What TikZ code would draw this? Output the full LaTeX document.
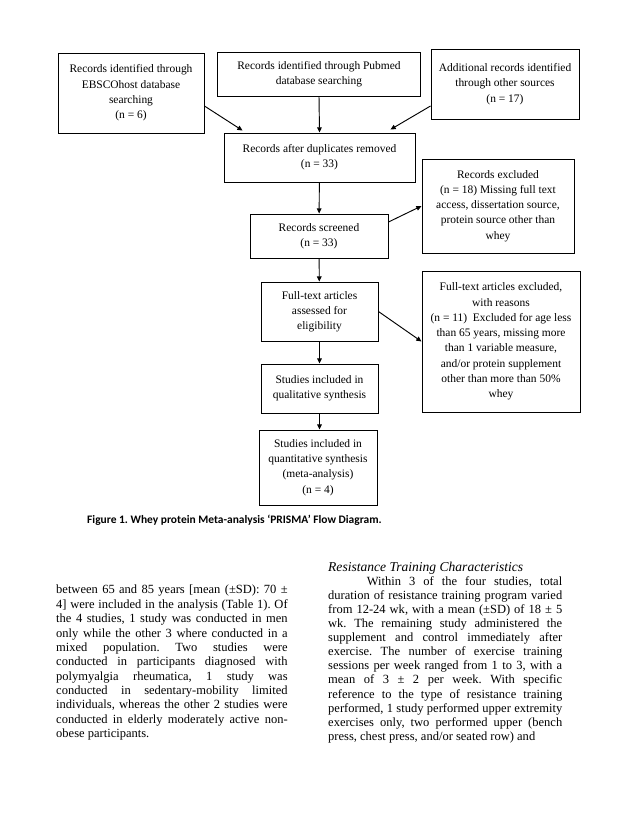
\documentclass[tikz,border=0pt]{standalone}
\usepackage{fontspec}
\setmainfont{Liberation Serif}
\newfontfamily\capfont{Carlito}
\usetikzlibrary{arrows.meta, calc}

\newcommand\jline[2][222pt]{\makebox[#1][s]{#2}}

\begin{document}
\frenchspacing
\begin{tikzpicture}[x=0.9592pt, y=-0.9592pt, >={Triangle[length=5pt, width=4.5pt]},
  box/.style={draw, line width=0.9pt, align=center, inner sep=0pt, font=\fontsize{11}{14.6}\selectfont},
  link/.style={->, line width=0.9pt},
  bodytext/.style={align=left, inner sep=0pt, anchor=north west, font=\fontsize{12}{13.8}\selectfont}]
  \useasboundingbox (0,0) rectangle (638,826);

  % identification
  \node[box, minimum width=140pt, minimum height=76.7pt] (ebsco) at (131,93) {Records identified through\\EBSCOhost database\\searching\\(n = 6)};
  \node[box, minimum width=194.7pt, minimum height=42.2pt] (pubmed) at (319,74) {Records identified through Pubmed\\database searching};
  \node[box, minimum width=142pt, minimum height=67.1pt] (other) at (505,84) {Additional records identified\\through other sources\\(n = 17)};

  % screening
  \node[box, minimum width=183.2pt, minimum height=47pt] (dup) at (319.5,157.5) {Records after duplicates removed\\(n = 33)};
  \node[box, minimum width=145.8pt, minimum height=90.2pt] (excl) at (498,206) {Records excluded\\(n = 18) Missing full text\\access, dissertation source,\\protein source other than\\whey};
  \node[box, minimum width=132.4pt, minimum height=42.2pt] (screen) at (319,236) {Records screened\\(n = 33)};

  % eligibility and inclusion
  \node[box, minimum width=112.2pt, minimum height=56.6pt] (full) at (319.5,311.5) {Full-text articles\\assessed for\\eligibility};
  \node[box, minimum width=151.6pt, minimum height=135.2pt] (fullexcl) at (501,341.5) {Full-text articles excluded,\\with reasons\\(n = 11)\ \ Excluded for age less\\than 65 years, missing more\\than 1 variable measure,\\and/or protein supplement\\other than more than 50\%\\whey};
  \node[box, minimum width=112.2pt, minimum height=47pt] (qual) at (319.5,388.5) {Studies included in\\qualitative synthesis};
  \node[box, minimum width=113.2pt, minimum height=71.9pt] (quant) at (318,467.5) {Studies included in\\quantitative synthesis\\(meta-analysis)\\(n = 4)};

  \draw[link] ($(ebsco.east)+(0,13)$) -- ($(dup.north west)+(19,-2)$);
  \draw[link] (pubmed.south) -- (dup.north);
  \draw[link] ($(other.west)+(0,22)$) -- ($(dup.north east)+(-25,-3)$);
  \draw[link] (dup) -- (screen);
  \draw[link] ($(screen.east)+(0,-14)$) -- (excl.west);
  \draw[link] (screen) -- (full);
  \draw[link] (full.east) -- (fullexcl.west);
  \draw[link] (full) -- (qual);
  \draw[link] (qual.south) -- (qual.south |- quant.north);

  \node[anchor=base west, inner sep=0pt, font=\capfont\bfseries\fontsize{11}{13}\selectfont] (caption) at (87,523) {Figure 1. Whey protein Meta-analysis ‘PRISMA’ Flow Diagram.};

  % body text
  \node[bodytext] (leftcol) at (56,585) {%
    \jline{between 65 and 85 years [mean (±SD): 70 ±}\\
    \jline{4] were included in the analysis (Table 1). Of}\\
    \jline{the 4 studies, 1 study was conducted in men}\\
    \jline{only while the other 3 where conducted in a}\\
    \jline{mixed population. Two studies were}\\
    \jline{conducted in participants diagnosed with}\\
    \jline{polymyalgia rheumatica, 1 study was}\\
    \jline{conducted in sedentary-mobility limited}\\
    \jline{individuals, whereas the other 2 studies were}\\
    \jline{conducted in elderly moderately active non-}\\
    obese participants.};
  \node[anchor=base west, inner sep=0pt, font=\fontsize{13}{15}\selectfont\itshape] (heading) at (328,571) {Resistance Training Characteristics};
  \node[bodytext, font=\fontsize{12}{13.55}\selectfont] (rightcol) at (328,576) {%
    \jline[224.5pt]{\hspace*{37pt}Within 3 of the four studies, total}\\
    \jline[224.5pt]{duration of resistance training program varied}\\
    \jline[224.5pt]{from 12-24 wk, with a mean (±SD) of 18 ± 5}\\
    \jline[224.5pt]{wk. The remaining study administered the}\\
    \jline[224.5pt]{supplement and control immediately after}\\
    \jline[224.5pt]{exercise. The number of exercise training}\\
    \jline[224.5pt]{sessions per week ranged from 1 to 3, with a}\\
    \jline[224.5pt]{mean of 3 ± 2 per week. With specific}\\
    \jline[224.5pt]{reference to the type of resistance training}\\
    \jline[224.5pt]{performed, 1 study performed upper extremity}\\
    \jline[224.5pt]{exercises only, two performed upper (bench}\\
    press, chest press, and/or seated row) and};
\end{tikzpicture}
\end{document}
